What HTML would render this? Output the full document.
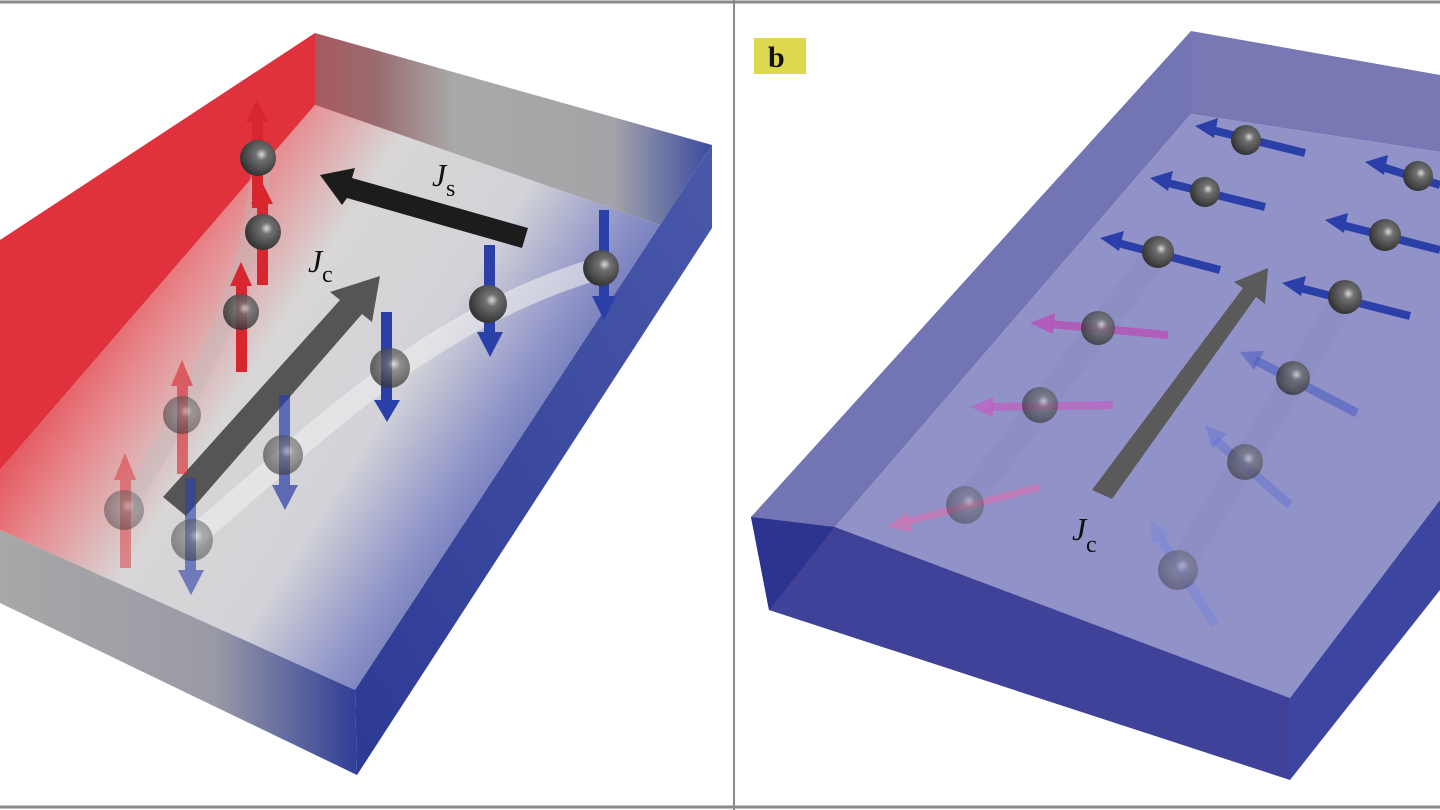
<!DOCTYPE html>
<html><head><meta charset="utf-8"><style>
html,body{margin:0;padding:0;background:#fff;}
svg{display:block}
text{font-family:"Liberation Serif",serif;}
</style></head><body>
<svg width="1440" height="810" viewBox="0 0 1440 810" xmlns="http://www.w3.org/2000/svg">
<defs>
<linearGradient id="lwall" x1="0" y1="0" x2="1" y2="0"><stop offset="0" stop-color="#a75a60"/><stop offset="0.15" stop-color="#9a6a6e"/><stop offset="0.35" stop-color="#a9a9a9"/><stop offset="0.75" stop-color="#a4a4a8"/><stop offset="1" stop-color="#3a4aa0"/></linearGradient>
<linearGradient id="lfloor" x1="0.1" y1="0.3" x2="0.9" y2="0.75"><stop offset="0" stop-color="#e2323c"/><stop offset="0.18" stop-color="#e78a8e"/><stop offset="0.35" stop-color="#d8d6d6"/><stop offset="0.58" stop-color="#d2d2d8"/><stop offset="0.75" stop-color="#8d92c8"/><stop offset="1" stop-color="#3d4a9e"/></linearGradient>
<linearGradient id="lfront" x1="0" y1="0" x2="1" y2="0"><stop offset="0" stop-color="#a8a8a8"/><stop offset="0.6" stop-color="#9a9aa6"/><stop offset="1" stop-color="#2f3e98"/></linearGradient>
<linearGradient id="lright" x1="0" y1="1" x2="1" y2="0"><stop offset="0" stop-color="#2c3a94"/><stop offset="1" stop-color="#4a58aa"/></linearGradient>
<radialGradient id="ball" cx="0.6" cy="0.4" r="0.65"><stop offset="0" stop-color="#d8d8d8"/><stop offset="0.25" stop-color="#707070"/><stop offset="1" stop-color="#2e2e2e"/></radialGradient>
</defs>
<rect x="0" y="0" width="1440" height="810" fill="#fff"/>
<line x1="0" y1="2" x2="1440" y2="2" stroke="#8a8a8a" stroke-width="3"/>
<line x1="0" y1="807" x2="1440" y2="807" stroke="#8a8a8a" stroke-width="3"/>
<line x1="734" y1="0" x2="734" y2="810" stroke="#8a8a8a" stroke-width="2"/>

<!-- LEFT PANEL -->
<polygon points="315,33 712,145 660,225 315,105" fill="url(#lwall)"/>
<polygon points="315,33 315,105 0,470 0,240" fill="#e0323c"/>
<polygon points="315,105 660,225 355,690 0,530 0,470" fill="url(#lfloor)"/>
<polygon points="712,145 712,228 357,775 355,690 660,225" fill="url(#lright)"/>
<polygon points="0,530 355,690 357,775 0,603" fill="url(#lfront)"/>

<path d="M190,540 C300,450 420,320 600,268" stroke="#eeeeee" stroke-opacity="0.6" stroke-width="22" fill="none"/>
<path d="M125,510 C190,400 250,300 262,160" stroke="#bbbbbb" stroke-opacity="0.35" stroke-width="20" fill="none"/>

<polygon points="320,175 355,168 352,178 528,228 522,248 347,198 342,205" fill="#1c1c1c"/>
<text x="432" y="186" font-size="32" font-style="italic" fill="#111">J</text><text x="446" y="196" font-size="24" fill="#111">s</text>
<polygon points="163,497 340,300 330,292 380,276 372,322 362,314 186,516" fill="#555"/>
<text x="308" y="272" font-size="32" font-style="italic" fill="#111">J</text><text x="322" y="282" font-size="24" fill="#111">c</text>

<g fill="#d8262e">
<rect x="252" y="118" width="11" height="90"/><polygon points="246,122 257,100 268,122"/>
<rect x="257" y="200" width="11" height="85"/><polygon points="251,204 262,182 273,204"/>
<rect x="236" y="282" width="11" height="90"/><polygon points="230,286 241,262 252,286"/>
<g opacity="0.6"><rect x="177" y="382" width="11" height="92"/><polygon points="171,386 182,360 193,386"/></g>
<g opacity="0.45"><rect x="120" y="476" width="11" height="92"/><polygon points="114,480 125,453 136,480"/></g>
</g>
<circle cx="258" cy="158" r="18" fill="url(#ball)"/>
<circle cx="263" cy="232" r="18" fill="url(#ball)"/>
<circle cx="241" cy="312" r="18" fill="url(#ball)" opacity="0.85"/>
<circle cx="182" cy="415" r="19" fill="url(#ball)" opacity="0.55"/>
<circle cx="124" cy="510" r="20" fill="url(#ball)" opacity="0.45"/>

<g fill="#2a3fa8">
<rect x="599" y="210" width="10" height="90"/><polygon points="592,296 604,320 616,296"/>
<rect x="484" y="245" width="11" height="90"/><polygon points="477,332 490,357 503,332"/>
<rect x="381" y="312" width="11" height="92"/><polygon points="374,400 387,422 400,400"/>
<g opacity="0.7"><rect x="279" y="395" width="11" height="92"/><polygon points="272,485 285,510 298,485"/></g>
<g opacity="0.6"><rect x="185" y="478" width="11" height="95"/><polygon points="178,570 191,595 204,570"/></g>
</g>
<circle cx="601" cy="268" r="18" fill="url(#ball)"/>
<circle cx="488" cy="304" r="19" fill="url(#ball)"/>
<circle cx="390" cy="368" r="20" fill="url(#ball)" opacity="0.75"/>
<circle cx="283" cy="455" r="20" fill="url(#ball)" opacity="0.6"/>
<circle cx="192" cy="540" r="21" fill="url(#ball)" opacity="0.5"/>

<!-- RIGHT PANEL -->
<polygon points="1191,31 1440,75 1440,152 1191,114" fill="#7778b4"/>
<polygon points="1191,31 1191,114 835,527 751,517" fill="#7374b4"/>
<polygon points="1191,114 1440,152 1440,500 1290,698 835,527" fill="#9192c8"/>
<polygon points="751,517 835,527 1290,698 1290,780 769,610" fill="#3f4298"/>
<polygon points="751,517 835,527 769,610" fill="#2c3490"/>
<polygon points="1290,698 1440,500 1440,590 1290,780" fill="#3c46a0"/>

<rect x="754" y="38" width="52" height="36" fill="#ded84e"/>
<text x="768" y="67" font-size="30" font-weight="bold" fill="#111">b</text>

<path d="M965,505 L1158,252" stroke="#8a8bc0" stroke-width="26" stroke-opacity="0.5" fill="none"/>
<path d="M1178,570 L1345,297" stroke="#8a8bc0" stroke-width="26" stroke-opacity="0.5" fill="none"/>

<polygon points="1092,490 1243,288 1234,282 1268,268 1265,304 1256,297 1112,499" fill="#5a5a5a"/>
<text x="1072" y="540" font-size="32" font-style="italic" fill="#111">J</text><text x="1086" y="552" font-size="24" fill="#111">c</text>

<g stroke-linecap="butt">
<g stroke="#2a3fa8" stroke-width="8">
<line x1="1305" y1="153" x2="1212" y2="130"/><line x1="1265" y1="207" x2="1168" y2="183"/>
<line x1="1220" y1="270" x2="1118" y2="243"/><line x1="1440" y1="185" x2="1382" y2="167"/>
<line x1="1440" y1="250" x2="1342" y2="225"/><line x1="1410" y1="316" x2="1300" y2="288"/>
</g>
<g fill="#2a3fa8">
<polygon points="1195,126 1218,118 1214,138"/><polygon points="1150,178 1173,171 1168,191"/>
<polygon points="1100,238 1124,231 1119,251"/><polygon points="1365,162 1388,155 1384,175"/>
<polygon points="1325,220 1348,213 1344,233"/><polygon points="1282,283 1306,276 1301,296"/>
</g>
<g stroke="#b553b8" stroke-width="8" opacity="0.85"><line x1="1168" y1="335" x2="1050" y2="324"/></g>
<polygon points="1030,323 1055,313 1053,334" fill="#b553b8" opacity="0.85"/>
<g stroke="#c060c0" stroke-width="8" opacity="0.7"><line x1="1113" y1="405" x2="990" y2="407"/></g>
<polygon points="970,407 993,397 993,417" fill="#c060c0" opacity="0.7"/>
<g stroke="#e070b0" stroke-width="7" opacity="0.6"><line x1="1040" y1="487" x2="905" y2="522"/></g>
<polygon points="887,527 907,512 912,532" fill="#e070b0" opacity="0.6"/>
<g stroke="#5060c0" stroke-width="9" opacity="0.6"><line x1="1357" y1="413" x2="1255" y2="360"/></g>
<polygon points="1240,352 1264,351 1254,370" fill="#5060c0" opacity="0.6"/>
<g stroke="#6070d0" stroke-width="9" opacity="0.45"><line x1="1290" y1="505" x2="1215" y2="440"/></g>
<polygon points="1205,425 1227,434 1212,448" fill="#6070d0" opacity="0.45"/>
<g stroke="#7080e0" stroke-width="10" opacity="0.35"><line x1="1215" y1="625" x2="1160" y2="538"/></g>
<polygon points="1150,520 1170,533 1152,544" fill="#7080e0" opacity="0.35"/>
</g>
<circle cx="1246" cy="140" r="15" fill="url(#ball)"/>
<circle cx="1205" cy="192" r="15" fill="url(#ball)"/>
<circle cx="1158" cy="252" r="16" fill="url(#ball)"/>
<circle cx="1418" cy="176" r="15" fill="url(#ball)"/>
<circle cx="1385" cy="235" r="16" fill="url(#ball)"/>
<circle cx="1345" cy="297" r="17" fill="url(#ball)"/>
<circle cx="1098" cy="328" r="17" fill="url(#ball)" opacity="0.8"/>
<circle cx="1040" cy="405" r="18" fill="url(#ball)" opacity="0.65"/>
<circle cx="965" cy="505" r="19" fill="url(#ball)" opacity="0.45"/>
<circle cx="1293" cy="378" r="17" fill="url(#ball)" opacity="0.8"/>
<circle cx="1245" cy="462" r="18" fill="url(#ball)" opacity="0.6"/>
<circle cx="1178" cy="570" r="20" fill="url(#ball)" opacity="0.45"/>
</svg>
</body></html>
